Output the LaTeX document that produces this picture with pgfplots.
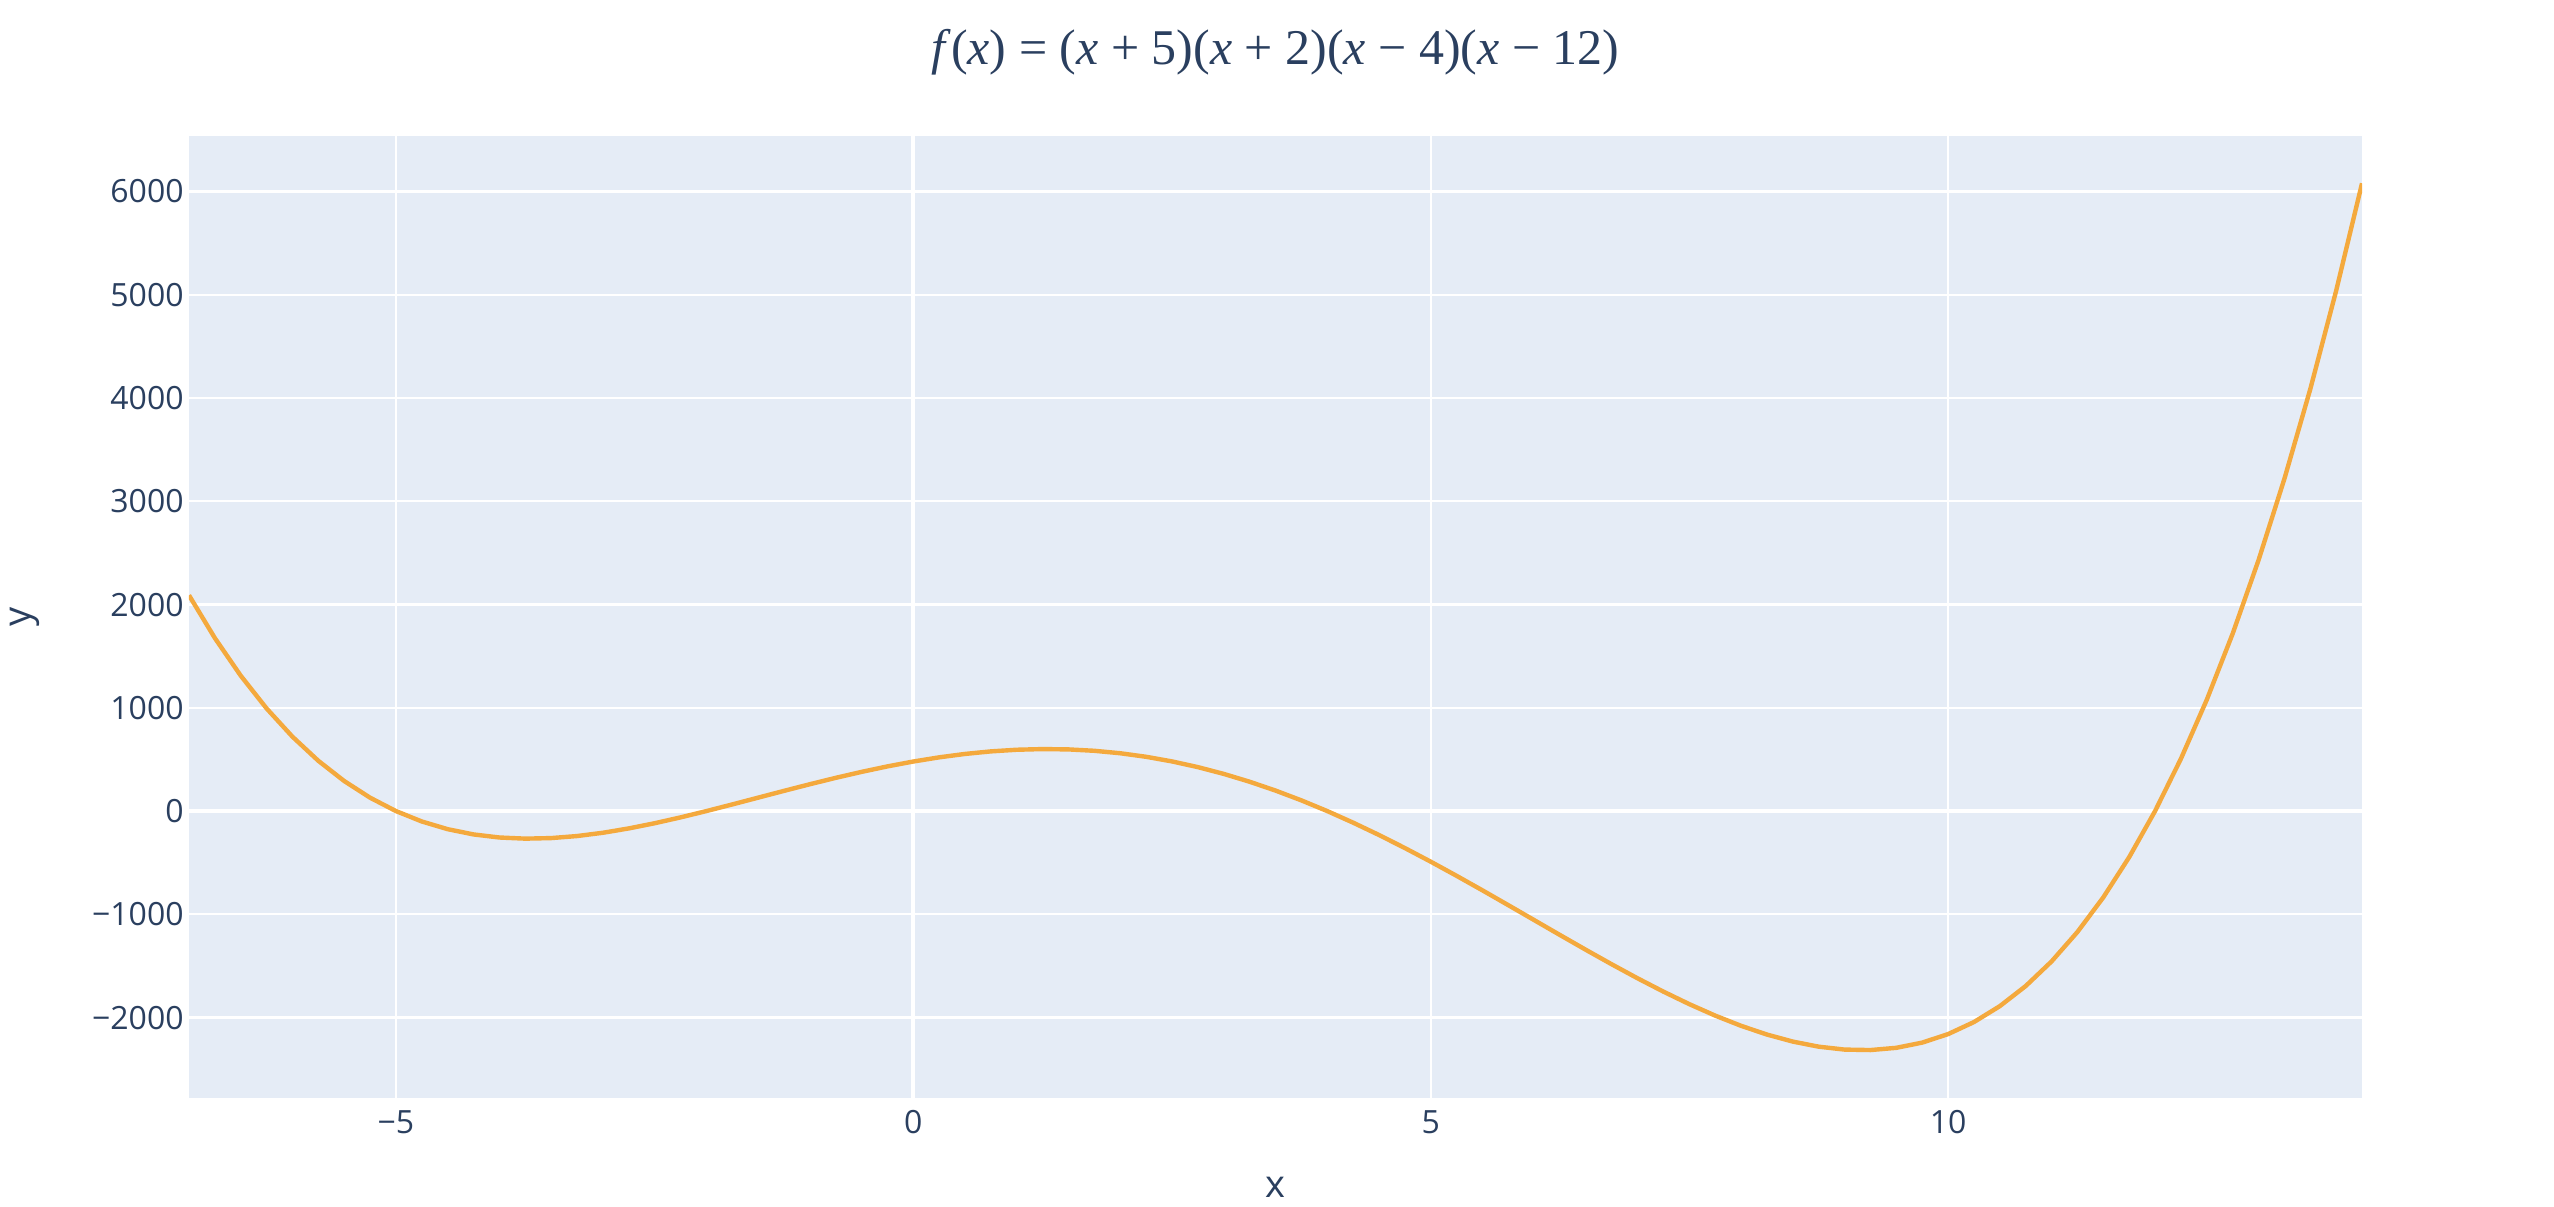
\documentclass[border=0pt]{standalone}
\usepackage{fontspec}
\setmainfont{Open Sans}
\newfontfamily\titlefont{Liberation Serif}
\usepackage{pgfplots}
\pgfplotsset{compat=1.18}
\definecolor{bgc}{HTML}{E5ECF6}
\definecolor{txt}{HTML}{2A3F5F}
\definecolor{curve}{HTML}{F4A93D}

\pgfplotstableread{
x y
-7 2090
-6.75 1675.49
-6.5 1311.19
-6.25 993.77
-6 720
-5.75 486.74
-5.5 290.94
-5.25 129.64
-5 0
-4.75 -100.76
-4.5 -175.31
-4.25 -226.23
-4 -256
-3.75 -267.01
-3.5 -261.56
-3.25 -241.86
-3 -210
-2.75 -168.01
-2.5 -117.81
-2.25 -61.23
-2 0
-1.75 64.24
-1.5 129.94
-1.25 195.64
-1 260
-0.75 321.74
-0.5 379.69
-0.25 432.77
0 480
0.25 520.49
0.5 553.44
0.75 578.14
1 594
1.25 600.49
1.5 597.19
1.75 583.77
2 560
2.25 525.74
2.5 480.94
2.75 425.64
3 360
3.25 284.24
3.5 198.69
3.75 103.77
4 0
4.25 -112.01
4.5 -231.56
4.75 -357.86
5 -490
5.25 -627.01
5.5 -767.81
5.75 -911.23
6 -1056
6.25 -1200.76
6.5 -1344.06
6.75 -1484.36
7 -1620
7.25 -1749.26
7.5 -1870.31
7.75 -1981.23
8 -2080
8.25 -2164.51
8.5 -2232.56
8.75 -2281.86
9 -2310
9.25 -2314.51
9.5 -2292.81
9.75 -2242.23
10 -2160
10.25 -2043.26
10.5 -1889.06
10.75 -1694.36
11 -1456
11.25 -1170.76
11.5 -835.31
11.75 -446.23
12 0
12.25 506.99
12.5 1078.44
12.75 1718.14
13 2430
13.25 3218.02
13.5 4086.19
13.75 5038.77
14 6080
}\curvedata

\begin{document}
\begin{tikzpicture}
\useasboundingbox (-94.5pt,-54.2pt) rectangle (1182.5pt,548.8pt);
\begin{axis}[
  at={(0,0)}, anchor=south west,
  scale only axis, width=1086.5pt, height=480.9pt,
  xmin=-7, xmax=14, ymin=-2775, ymax=6540,
  axis line style={draw=none},
  axis background/.style={fill=bgc},
  tick style={draw=none},
  major tick length=0pt,
  xtick={-5,0,5,10}, xticklabels={−5,0,5,10},
  ytick={-2000,-1000,0,1000,2000,3000,4000,5000,6000},
  yticklabels={−2000,−1000,0,1000,2000,3000,4000,5000,6000},
  grid=major, major grid style={white, line width=1.1pt},
  extra x ticks={0}, extra x tick labels={},
  extra x tick style={major grid style={white, line width=1.9pt}},
  extra y ticks={0}, extra y tick labels={},
  extra y tick style={major grid style={white, line width=1.9pt}},
  tick label style={font=\fontsize{16}{19}\selectfont, text=txt},
  xticklabel style={anchor=north, inner sep=0pt, yshift=-6.3pt},
  yticklabel style={anchor=east, inner sep=0pt, xshift=-2.5pt},
  xlabel={x}, ylabel={y},
  label style={font=\fontsize{19}{23}\selectfont, text=txt},
  xlabel style={at={(axis description cs:0.5,-0.0936)}, anchor=center, inner sep=0pt},
  ylabel style={at={(axis description cs:-0.0756,0.5)}, anchor=center, inner sep=0pt},
  title={\textit{f}(\textit{x}) = (\textit{x} + 5)(\textit{x} + 2)(\textit{x} − 4)(\textit{x} − 12)},
  title style={at={(axis description cs:0.5,1.0749)}, anchor=center, inner sep=0pt,
    font=\titlefont\fontsize{25}{30}\selectfont, text=txt},
]
\addplot[curve, line width=2.2pt, no marks] table[x=x, y=y] {\curvedata};
\end{axis}
\end{tikzpicture}
\end{document}
